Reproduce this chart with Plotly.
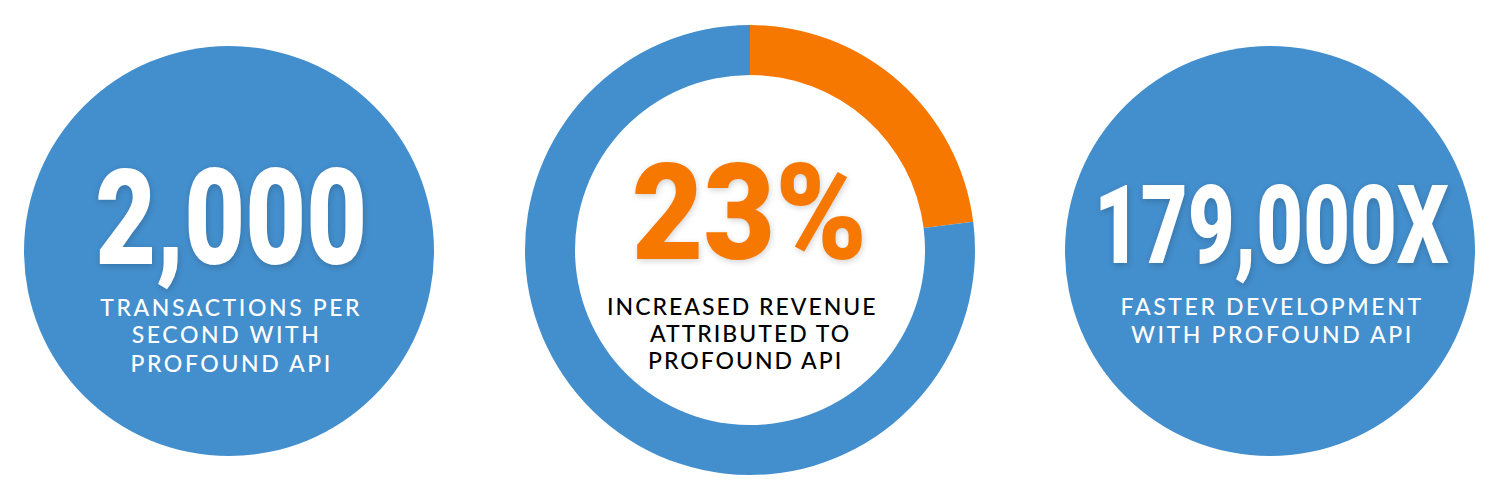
import json
import plotly.graph_objects as go

categories = ["Attributed to Profound API", "Other"]
donut_values = [23, 77]
left_value = [100]
right_value = [100]
big_labels = ["2,000", "23%", "179,000X"]
small_lines_left = ["TRANSACTIONS PER", "SECOND WITH", "PROFOUND API"]
small_lines_mid = ["INCREASED REVENUE", "ATTRIBUTED TO", "PROFOUND API"]
small_lines_right = ["FASTER DEVELOPMENT", "WITH PROFOUND API"]
BLUE = "#438ecc"
ORANGE = "#f77800"
W, H = 1500, 500


def dom(cx, cy, r):
    return dict(x=[(cx - r) / W, (cx + r) / W], y=[1 - (cy + r) / H, 1 - (cy - r) / H])


fig = go.Figure()
fig.add_trace(go.Pie(values=left_value, labels=["Profound API"], domain=dom(229, 251, 205),
                     marker=dict(colors=[BLUE], line=dict(width=0)), textinfo="none", hoverinfo="skip", sort=False))
fig.add_trace(go.Pie(values=donut_values, labels=categories, domain=dom(750, 250, 225), hole=175 / 225,
                     direction="clockwise", rotation=0, sort=False,
                     marker=dict(colors=[ORANGE, BLUE], line=dict(width=0)), textinfo="none", hoverinfo="skip"))
fig.add_trace(go.Pie(values=right_value, labels=["Development"], domain=dom(1270, 251, 205),
                     marker=dict(colors=[BLUE], line=dict(width=0)), textinfo="none", hoverinfo="skip", sort=False))

BIGFONT = "Roboto, Liberation Sans, sans-serif"
TXT = "Lato, Open Sans, sans-serif"
SHADOW = "1px 2px 6px rgba(0,0,0,0.18)"


def big(x, y, text, size, color):
    fig.add_annotation(x=x / W, y=1 - y / H, xref="paper", yref="paper", text=text, showarrow=False,
                       xanchor="center", yanchor="middle",
                       font=dict(family=BIGFONT, size=size, color=color, shadow=SHADOW, weight=900))


def small(x, y, text, color):
    fig.add_annotation(x=x / W, y=1 - y / H, xref="paper", yref="paper", text=text, showarrow=False,
                       xanchor="center", yanchor="middle", align="center",
                       font=dict(family=TXT, size=23, color=color, weight=500))


big(231, 219, big_labels[0], 133, "white")
big(749, 214, big_labels[1], 133, ORANGE)
big(1271, 226, big_labels[2], 110, "white")
for x, y, t in zip([231.5, 226, 231], [307, 334, 363], small_lines_left):
    small(x, y, t, "white")
for x, y, t in zip([742.5, 750, 745], [306, 333, 360], small_lines_mid):
    small(x, y, t, "black")
for x, y, t in zip([1272, 1272], [306, 334], small_lines_right):
    small(x, y, t, "white")

fig.update_layout(width=W, height=H, margin=dict(l=0, r=0, t=0, b=0), showlegend=False,
                  paper_bgcolor="white", plot_bgcolor="white")

big_scale = [0.79, 0.93, 0.735]
spacing = [2.6, 2.6, 2.6, 2.0, 2.0, 2.0, 2.6, 2.6]
post = """
document.body.style.margin='0';
var scales = %s;
var spacing = %s;
document.querySelectorAll('.annotation-text').forEach(function(t, i) {
  if (i < scales.length) {
    t.style.transformBox = 'fill-box';
    t.style.transformOrigin = 'center';
    t.style.transform = 'scaleX(' + scales[i] + ')';
  } else {
    t.style.letterSpacing = spacing[i - scales.length] + 'px';
  }
});
""" % (json.dumps(big_scale), json.dumps(spacing))
fig.write_html("out.html", post_script=post, config={"displayModeBar": False})
